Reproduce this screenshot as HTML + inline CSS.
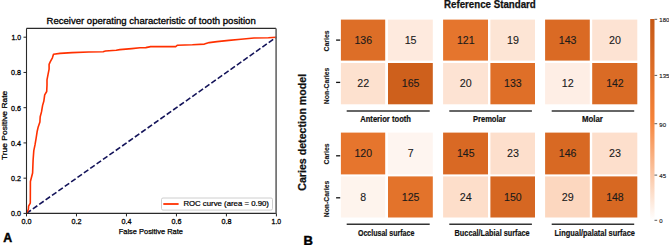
<!DOCTYPE html>
<html><head><meta charset="utf-8"><style>
html,body{margin:0;padding:0;background:#fff;}
svg{display:block;}
text{font-family:"Liberation Sans",sans-serif;}
</style></head><body>
<svg width="669" height="245" viewBox="0 0 669 245">
<rect width="669" height="245" fill="#fff"/>

<text x="46.5" y="23.6" font-size="9.4" fill="#000" stroke="#000" stroke-width="0.3" textLength="209.2" lengthAdjust="spacingAndGlyphs">Receiver operating characteristic of tooth position</text>
<line x1="26.5" y1="213.4" x2="276.4" y2="37.2" stroke="#14145a" stroke-width="1.6" stroke-dasharray="5.45 2.35"/>
<path d="M26.6,213.6 L28.4,209.3 L28.6,206.1 L30.3,203.1 L30.4,181.5 L32.6,173.0 L33.1,160.0 L33.8,150.6 L35.0,144.9 L36.1,138.3 L37.1,131.8 L38.2,126.9 L39.9,122.0 L40.2,116.8 L41.5,111.9 L42.6,105.4 L43.8,101.3 L44.7,94.8 L46.7,91.5 L47.0,85.0 L47.0,79.8 L48.1,74.1 L49.1,69.2 L49.1,64.3 L50.2,61.9 L52.4,57.8 L53.5,54.2 L60.0,53.4 L72.0,52.6 L88.7,52.0 L103.1,51.7 L105.5,51.0 L116.2,50.2 L119.8,49.6 L131.8,48.6 L140.0,47.8 L145.8,47.6 L150.6,46.6 L175.7,46.6 L177.5,45.2 L192.4,44.8 L204.4,44.1 L209.2,42.6 L217.0,41.6 L228.9,40.4 L240.9,39.3 L254.0,38.0 L268.4,37.8 L276.3,37.2" fill="none" stroke="#ff3000" stroke-width="1.6" stroke-linejoin="round"/>
<line x1="26.5" y1="28.4" x2="276.1" y2="28.4" stroke="#2a2a2a" stroke-width="1.1"/>
<line x1="26.5" y1="213.4" x2="276.1" y2="213.4" stroke="#2a2a2a" stroke-width="1.1"/>
<line x1="26.5" y1="28.4" x2="26.5" y2="213.4" stroke="#2a2a2a" stroke-width="1.1"/>
<line x1="276.1" y1="28.4" x2="276.1" y2="213.4" stroke="#666" stroke-width="1.6"/>
<line x1="26.50" y1="213.4" x2="26.50" y2="216.4" stroke="#222" stroke-width="1"/>
<line x1="23.5" y1="213.40" x2="26.5" y2="213.40" stroke="#222" stroke-width="1"/>
<text x="21.50" y="224.1" font-size="7.9" fill="#000" stroke="#000" stroke-width="0.3" textLength="10.0" lengthAdjust="spacingAndGlyphs">0.0</text>
<text x="11.00" y="216.30" font-size="7.9" fill="#000" stroke="#000" stroke-width="0.3" textLength="10.0" lengthAdjust="spacingAndGlyphs">0.0</text>
<line x1="76.48" y1="213.4" x2="76.48" y2="216.4" stroke="#222" stroke-width="1"/>
<line x1="23.5" y1="178.16" x2="26.5" y2="178.16" stroke="#222" stroke-width="1"/>
<text x="71.48" y="224.1" font-size="7.9" fill="#000" stroke="#000" stroke-width="0.3" textLength="10.0" lengthAdjust="spacingAndGlyphs">0.2</text>
<text x="11.00" y="181.06" font-size="7.9" fill="#000" stroke="#000" stroke-width="0.3" textLength="10.0" lengthAdjust="spacingAndGlyphs">0.2</text>
<line x1="126.46" y1="213.4" x2="126.46" y2="216.4" stroke="#222" stroke-width="1"/>
<line x1="23.5" y1="142.92" x2="26.5" y2="142.92" stroke="#222" stroke-width="1"/>
<text x="121.46" y="224.1" font-size="7.9" fill="#000" stroke="#000" stroke-width="0.3" textLength="10.0" lengthAdjust="spacingAndGlyphs">0.4</text>
<text x="11.00" y="145.82" font-size="7.9" fill="#000" stroke="#000" stroke-width="0.3" textLength="10.0" lengthAdjust="spacingAndGlyphs">0.4</text>
<line x1="176.44" y1="213.4" x2="176.44" y2="216.4" stroke="#222" stroke-width="1"/>
<line x1="23.5" y1="107.68" x2="26.5" y2="107.68" stroke="#222" stroke-width="1"/>
<text x="171.44" y="224.1" font-size="7.9" fill="#000" stroke="#000" stroke-width="0.3" textLength="10.0" lengthAdjust="spacingAndGlyphs">0.6</text>
<text x="11.00" y="110.58" font-size="7.9" fill="#000" stroke="#000" stroke-width="0.3" textLength="10.0" lengthAdjust="spacingAndGlyphs">0.6</text>
<line x1="226.42" y1="213.4" x2="226.42" y2="216.4" stroke="#222" stroke-width="1"/>
<line x1="23.5" y1="72.44" x2="26.5" y2="72.44" stroke="#222" stroke-width="1"/>
<text x="221.42" y="224.1" font-size="7.9" fill="#000" stroke="#000" stroke-width="0.3" textLength="10.0" lengthAdjust="spacingAndGlyphs">0.8</text>
<text x="11.00" y="75.34" font-size="7.9" fill="#000" stroke="#000" stroke-width="0.3" textLength="10.0" lengthAdjust="spacingAndGlyphs">0.8</text>
<line x1="276.40" y1="213.4" x2="276.40" y2="216.4" stroke="#222" stroke-width="1"/>
<line x1="23.5" y1="37.20" x2="26.5" y2="37.20" stroke="#222" stroke-width="1"/>
<text x="271.60" y="224.1" font-size="7.9" fill="#000" stroke="#000" stroke-width="0.3" textLength="9.6" lengthAdjust="spacingAndGlyphs">1.0</text>
<text x="11.40" y="40.10" font-size="7.9" fill="#000" stroke="#000" stroke-width="0.3" textLength="9.6" lengthAdjust="spacingAndGlyphs">1.0</text>
<text x="118.7" y="233.7" font-size="7.5" fill="#000" stroke="#000" stroke-width="0.25" textLength="64.3" lengthAdjust="spacingAndGlyphs">False Positive Rate</text>
<text transform="translate(7.3,160.1) rotate(-90)" x="0" y="0" font-size="7.5" fill="#000" stroke="#000" stroke-width="0.25" textLength="69.4" lengthAdjust="spacingAndGlyphs">True Positive Rate</text>
<rect x="161.5" y="198" width="111" height="12.1" rx="1.5" fill="#fff" fill-opacity="0.8" stroke="#c8c8c8" stroke-width="0.9"/>
<line x1="163.3" y1="204" x2="178.6" y2="204" stroke="#ff3000" stroke-width="1.8"/>
<text x="183.4" y="206.3" font-size="6.8" fill="#000" stroke="#000" stroke-width="0.2" textLength="85.5" lengthAdjust="spacingAndGlyphs">ROC curve (area = 0.90)</text>
<text x="3.2" y="241.8" font-size="12.3" font-weight="bold" fill="#000" stroke="#000" stroke-width="0.45">A</text>
<rect x="340.9" y="19.6" width="44.3" height="41.0" fill="#dd6e27"/>
<text x="354.45" y="43.7" font-size="10.2" fill="#1a1a1a" stroke="#1a1a1a" stroke-width="0.1" textLength="17.6" lengthAdjust="spacingAndGlyphs">136</text>
<rect x="388.0" y="19.6" width="44.8" height="41.0" fill="#feeade"/>
<text x="404.65" y="43.7" font-size="10.2" fill="#1a1a1a" stroke="#1a1a1a" stroke-width="0.1" textLength="11.9" lengthAdjust="spacingAndGlyphs">15</text>
<rect x="340.9" y="63.0" width="44.3" height="41.3" fill="#fde1cf"/>
<text x="357.30" y="87.2" font-size="10.2" fill="#1a1a1a" stroke="#1a1a1a" stroke-width="0.1" textLength="11.9" lengthAdjust="spacingAndGlyphs">22</text>
<rect x="388.0" y="63.0" width="44.8" height="41.3" fill="#ce601c"/>
<text x="401.80" y="87.2" font-size="10.2" fill="#1a1a1a" stroke="#1a1a1a" stroke-width="0.1" textLength="17.6" lengthAdjust="spacingAndGlyphs">165</text>
<rect x="443.1" y="19.6" width="44.9" height="41.0" fill="#e5752d"/>
<text x="456.95" y="43.7" font-size="10.2" fill="#1a1a1a" stroke="#1a1a1a" stroke-width="0.1" textLength="17.6" lengthAdjust="spacingAndGlyphs">121</text>
<rect x="490.4" y="19.6" width="44.6" height="41.0" fill="#fde5d5"/>
<text x="506.95" y="43.7" font-size="10.2" fill="#1a1a1a" stroke="#1a1a1a" stroke-width="0.1" textLength="11.9" lengthAdjust="spacingAndGlyphs">19</text>
<rect x="443.1" y="63.0" width="44.9" height="41.3" fill="#fde3d3"/>
<text x="459.80" y="87.2" font-size="10.2" fill="#1a1a1a" stroke="#1a1a1a" stroke-width="0.1" textLength="11.9" lengthAdjust="spacingAndGlyphs">20</text>
<rect x="490.4" y="63.0" width="44.6" height="41.3" fill="#df6f28"/>
<text x="504.10" y="87.2" font-size="10.2" fill="#1a1a1a" stroke="#1a1a1a" stroke-width="0.1" textLength="17.6" lengthAdjust="spacingAndGlyphs">133</text>
<rect x="545.1" y="19.6" width="44.7" height="41.0" fill="#da6a24"/>
<text x="558.85" y="43.7" font-size="10.2" fill="#1a1a1a" stroke="#1a1a1a" stroke-width="0.1" textLength="17.6" lengthAdjust="spacingAndGlyphs">143</text>
<rect x="592.2" y="19.6" width="45.1" height="41.0" fill="#fde3d3"/>
<text x="609.00" y="43.7" font-size="10.2" fill="#1a1a1a" stroke="#1a1a1a" stroke-width="0.1" textLength="11.9" lengthAdjust="spacingAndGlyphs">20</text>
<rect x="545.1" y="63.0" width="44.7" height="41.3" fill="#feeee5"/>
<text x="561.70" y="87.2" font-size="10.2" fill="#1a1a1a" stroke="#1a1a1a" stroke-width="0.1" textLength="11.9" lengthAdjust="spacingAndGlyphs">12</text>
<rect x="592.2" y="63.0" width="45.1" height="41.3" fill="#da6b25"/>
<text x="606.15" y="87.2" font-size="10.2" fill="#1a1a1a" stroke="#1a1a1a" stroke-width="0.1" textLength="17.6" lengthAdjust="spacingAndGlyphs">142</text>
<line x1="336.1" y1="40.1" x2="340.2" y2="40.1" stroke="#111" stroke-width="1.3"/>
<text transform="translate(328.6,41.0) rotate(-90)" x="-10.60" y="0" font-size="7.8" font-weight="bold" fill="#111" stroke="#111" stroke-width="0.1" textLength="21.2" lengthAdjust="spacingAndGlyphs">Caries</text>
<line x1="336.1" y1="82.4" x2="340.2" y2="82.4" stroke="#111" stroke-width="1.3"/>
<text transform="translate(328.6,85.9) rotate(-90)" x="-18.30" y="0" font-size="7.8" font-weight="bold" fill="#111" stroke="#111" stroke-width="0.1" textLength="36.6" lengthAdjust="spacingAndGlyphs">Non-Caries</text>
<rect x="340.9" y="132.6" width="44.3" height="41.8" fill="#e6752d"/>
<text x="354.45" y="157.1" font-size="10.2" fill="#1a1a1a" stroke="#1a1a1a" stroke-width="0.1" textLength="17.6" lengthAdjust="spacingAndGlyphs">120</text>
<rect x="388.0" y="132.6" width="44.8" height="41.8" fill="#fef5f0"/>
<text x="407.65" y="157.1" font-size="10.2" fill="#1a1a1a" stroke="#1a1a1a" stroke-width="0.1" textLength="5.9" lengthAdjust="spacingAndGlyphs">7</text>
<rect x="340.9" y="176.4" width="44.3" height="41.1" fill="#fef4ed"/>
<text x="360.30" y="200.5" font-size="10.2" fill="#1a1a1a" stroke="#1a1a1a" stroke-width="0.1" textLength="5.9" lengthAdjust="spacingAndGlyphs">8</text>
<rect x="388.0" y="176.4" width="44.8" height="41.1" fill="#e3732b"/>
<text x="401.80" y="200.5" font-size="10.2" fill="#1a1a1a" stroke="#1a1a1a" stroke-width="0.1" textLength="17.6" lengthAdjust="spacingAndGlyphs">125</text>
<rect x="443.1" y="132.6" width="44.9" height="41.8" fill="#d96924"/>
<text x="456.95" y="157.1" font-size="10.2" fill="#1a1a1a" stroke="#1a1a1a" stroke-width="0.1" textLength="17.6" lengthAdjust="spacingAndGlyphs">145</text>
<rect x="490.4" y="132.6" width="44.6" height="41.8" fill="#fddfcc"/>
<text x="506.95" y="157.1" font-size="10.2" fill="#1a1a1a" stroke="#1a1a1a" stroke-width="0.1" textLength="11.9" lengthAdjust="spacingAndGlyphs">23</text>
<rect x="443.1" y="176.4" width="44.9" height="41.1" fill="#fddeca"/>
<text x="459.80" y="200.5" font-size="10.2" fill="#1a1a1a" stroke="#1a1a1a" stroke-width="0.1" textLength="11.9" lengthAdjust="spacingAndGlyphs">24</text>
<rect x="490.4" y="176.4" width="44.6" height="41.1" fill="#d66722"/>
<text x="504.10" y="200.5" font-size="10.2" fill="#1a1a1a" stroke="#1a1a1a" stroke-width="0.1" textLength="17.6" lengthAdjust="spacingAndGlyphs">150</text>
<rect x="545.1" y="132.6" width="44.7" height="41.8" fill="#d86923"/>
<text x="558.85" y="157.1" font-size="10.2" fill="#1a1a1a" stroke="#1a1a1a" stroke-width="0.1" textLength="17.6" lengthAdjust="spacingAndGlyphs">146</text>
<rect x="592.2" y="132.6" width="45.1" height="41.8" fill="#fddfcc"/>
<text x="609.00" y="157.1" font-size="10.2" fill="#1a1a1a" stroke="#1a1a1a" stroke-width="0.1" textLength="11.9" lengthAdjust="spacingAndGlyphs">23</text>
<rect x="545.1" y="176.4" width="44.7" height="41.1" fill="#fcd7bf"/>
<text x="561.70" y="200.5" font-size="10.2" fill="#1a1a1a" stroke="#1a1a1a" stroke-width="0.1" textLength="11.9" lengthAdjust="spacingAndGlyphs">29</text>
<rect x="592.2" y="176.4" width="45.1" height="41.1" fill="#d76822"/>
<text x="606.15" y="200.5" font-size="10.2" fill="#1a1a1a" stroke="#1a1a1a" stroke-width="0.1" textLength="17.6" lengthAdjust="spacingAndGlyphs">148</text>
<line x1="336.1" y1="155.8" x2="340.2" y2="155.8" stroke="#111" stroke-width="1.3"/>
<text transform="translate(328.6,154.0) rotate(-90)" x="-10.60" y="0" font-size="7.8" font-weight="bold" fill="#111" stroke="#111" stroke-width="0.1" textLength="21.2" lengthAdjust="spacingAndGlyphs">Caries</text>
<line x1="336.1" y1="197.8" x2="340.2" y2="197.8" stroke="#111" stroke-width="1.3"/>
<text transform="translate(328.6,199.0) rotate(-90)" x="-18.30" y="0" font-size="7.8" font-weight="bold" fill="#111" stroke="#111" stroke-width="0.1" textLength="36.6" lengthAdjust="spacingAndGlyphs">Non-Caries</text>
<line x1="346.7" y1="111" x2="429.7" y2="111" stroke="#333" stroke-width="1.5"/>
<line x1="346.7" y1="224.3" x2="429.7" y2="224.3" stroke="#333" stroke-width="1.5"/>
<line x1="449.3" y1="111" x2="531.9" y2="111" stroke="#333" stroke-width="1.5"/>
<line x1="449.3" y1="224.3" x2="531.9" y2="224.3" stroke="#333" stroke-width="1.5"/>
<line x1="551.7" y1="111" x2="634.2" y2="111" stroke="#333" stroke-width="1.5"/>
<line x1="551.7" y1="224.3" x2="634.2" y2="224.3" stroke="#333" stroke-width="1.5"/>
<text x="360.2" y="121.7" font-size="8.4" font-weight="bold" fill="#111" stroke="#111" stroke-width="0.2" textLength="50.8" lengthAdjust="spacingAndGlyphs">Anterior tooth</text>
<text x="472.9" y="121.7" font-size="8.4" font-weight="bold" fill="#111" stroke="#111" stroke-width="0.2" textLength="32.9" lengthAdjust="spacingAndGlyphs">Premolar</text>
<text x="581.9" y="121.7" font-size="8.4" font-weight="bold" fill="#111" stroke="#111" stroke-width="0.2" textLength="20.9" lengthAdjust="spacingAndGlyphs">Molar</text>
<text x="357.9" y="235.6" font-size="8.4" font-weight="bold" fill="#111" stroke="#111" stroke-width="0.2" textLength="56.5" lengthAdjust="spacingAndGlyphs">Occlusal surface</text>
<text x="454.6" y="235.6" font-size="8.4" font-weight="bold" fill="#111" stroke="#111" stroke-width="0.2" textLength="75.1" lengthAdjust="spacingAndGlyphs">Buccal/Labial surface</text>
<text x="554.6" y="235.6" font-size="8.4" font-weight="bold" fill="#111" stroke="#111" stroke-width="0.2" textLength="80.3" lengthAdjust="spacingAndGlyphs">Lingual/palatal surface</text>
<text x="444" y="7.7" font-size="10" font-weight="bold" fill="#111" stroke="#111" stroke-width="0.25" textLength="91.8" lengthAdjust="spacingAndGlyphs">Reference Standard</text>
<text transform="translate(306.3,190.7) rotate(-90)" x="0" y="0" font-size="10.5" font-weight="bold" fill="#111" stroke="#111" stroke-width="0.25" textLength="116.8" lengthAdjust="spacingAndGlyphs">Caries detection model</text>
<text x="303.6" y="244.6" font-size="13" font-weight="bold" fill="#000" stroke="#000" stroke-width="0.45">B</text>
<defs><linearGradient id="cb" x1="0" y1="1" x2="0" y2="0"><stop offset="0" stop-color="#ffffff"/><stop offset="0.5" stop-color="#f68339"/><stop offset="1" stop-color="#c65916"/></linearGradient></defs>
<rect x="650.2" y="19.0" width="4.3" height="201.3" fill="url(#cb)"/>
<line x1="654.5" y1="19.3" x2="657.2" y2="19.3" stroke="#333" stroke-width="0.8"/>
<text x="659.3" y="22.3" font-size="6" fill="#222" stroke="#222" stroke-width="0.15">180</text>
<line x1="654.5" y1="75.4" x2="657.2" y2="75.4" stroke="#333" stroke-width="0.8"/>
<text x="659.3" y="78.4" font-size="6" fill="#222" stroke="#222" stroke-width="0.15">135</text>
<line x1="654.5" y1="123.7" x2="657.2" y2="123.7" stroke="#333" stroke-width="0.8"/>
<text x="659.3" y="126.7" font-size="6" fill="#222" stroke="#222" stroke-width="0.15">90</text>
<line x1="654.5" y1="175.1" x2="657.2" y2="175.1" stroke="#333" stroke-width="0.8"/>
<text x="659.3" y="178.1" font-size="6" fill="#222" stroke="#222" stroke-width="0.15">45</text>
<line x1="654.5" y1="220.3" x2="657.2" y2="220.3" stroke="#333" stroke-width="0.8"/>
<text x="659.3" y="223.3" font-size="6" fill="#222" stroke="#222" stroke-width="0.15">0</text>
</svg></body></html>
